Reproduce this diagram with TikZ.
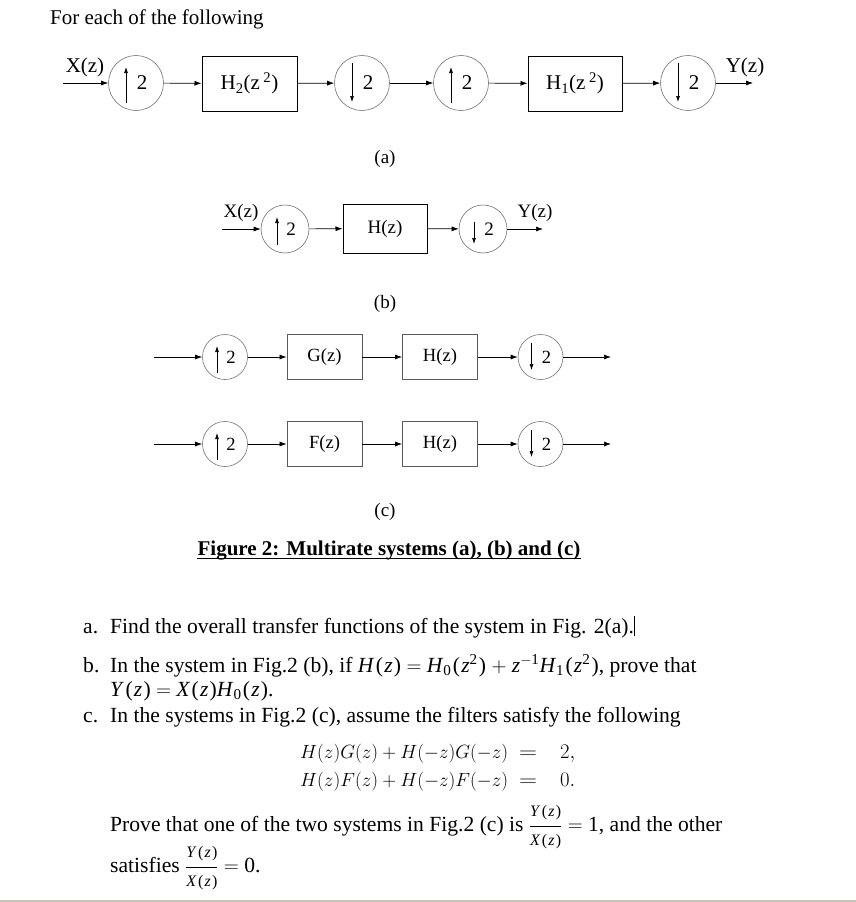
\documentclass[tikz,border=0pt]{standalone}
\usepackage[no-math]{fontspec}
\usepackage{graphicx}
\setmainfont{Liberation Serif}
\usetikzlibrary{arrows.meta}
\newcommand{\vi}[1]{\textit{#1}}
\newcommand{\pl}{\kern1.4pt(\kern1.2pt}
\newcommand{\pr}{\kern1.2pt)}
\newcommand{\fa}{\fontsize{21}{25}\selectfont}
\newcommand{\fb}{\fontsize{19}{23}\selectfont}
\newcommand{\fc}{\fontsize{18.6}{22}\selectfont}
\newcommand{\ft}{\fontsize{21}{25}\selectfont}
\newcommand{\fqq}{\fontsize{21.6}{25}\selectfont}
\newcommand{\fq}{\fontsize{20.74}{25}\selectfont}
\newcommand{\fr}{\fontsize{16}{16}\selectfont}
\newcommand{\yx}{$\displaystyle\frac{\hbox{\fr\vi{Y}\pl\vi{z}\pr}}{\hbox{\fr\vi{X}\pl\vi{z}\pr}}$}
\begin{document}
\begin{tikzpicture}[x=1pt,y=-1pt,
  circ/.style={circle,draw=black!55,line width=0.6pt,minimum size=#1,inner sep=0pt},
  blk/.style={rectangle,draw,line width=1pt,inner sep=0pt},
  blkc/.style={rectangle,draw=black!65,line width=0.8pt,inner sep=0pt,minimum width=75pt,minimum height=45pt,font=\fc},
  conn/.style={-{Latex[length=7pt,width=5pt]},line width=0.7pt},
  sym/.style={-{Latex[length=6pt,width=4pt]},line width=0.7pt},
  txt/.style={anchor=base west,inner sep=0pt,font=\ft},
  qtxt/.style={anchor=base west,inner sep=0pt,font=\fqq},
]
\fill[white] (0,0) rectangle (856,902);
\useasboundingbox (0,0) rectangle (856,902);

\node[txt] (intro) at (50,24) {For each of the following};

% ---------- (a) ----------
\coordinate (ain) at (63,83);
\node[circ=55pt] (a1) at (136,83) {};
\node[blk,minimum width=95pt,minimum height=55pt,font=\fa] (ab1) at (249.5,83.5) {H\textsubscript{2}(z\,\textsuperscript{2})};
\node[circ=55pt] (a2) at (362,83) {};
\node[circ=55pt] (a3) at (461,83) {};
\node[blk,minimum width=94pt,minimum height=55pt,font=\fa] (ab2) at (575,83.5) {H\textsubscript{1}(z\,\textsuperscript{2})};
\node[circ=55pt] (a4) at (688,83) {};
\coordinate (aout) at (753,83);
\draw[conn] (ain) -- (a1);
\draw[conn] (a1) -- (ab1);
\draw[conn] (ab1) -- (a2);
\draw[conn] (a2) -- (a3);
\draw[conn] (a3) -- (ab2);
\draw[conn] (ab2) -- (a4);
\draw[conn] (a4) -- (aout);
\node[font=\fa,inner sep=0pt] (xa) at (85,67) {X(z)};
\node[font=\fa,inner sep=0pt] (ya) at (745,67) {Y(z)};
\draw[sym] ([shift={(-10,20)}]a1.center) -- ([shift={(-10,-16)}]a1.center);
\node[font=\fa,inner sep=0pt] (a1n) at ([xshift=6]a1.center) {2};
\draw[sym] ([shift={(-10,-20)}]a2.center) -- ([shift={(-10,19)}]a2.center);
\node[font=\fa,inner sep=0pt] (a2n) at ([xshift=6]a2.center) {2};
\draw[sym] ([shift={(-10,20)}]a3.center) -- ([shift={(-10,-16)}]a3.center);
\node[font=\fa,inner sep=0pt] (a3n) at ([xshift=6]a3.center) {2};
\draw[sym] ([shift={(-10,-20)}]a4.center) -- ([shift={(-10,19)}]a4.center);
\node[font=\fa,inner sep=0pt] (a4n) at ([xshift=6]a4.center) {2};
\node[txt,anchor=base,font=\fb] (capa) at (385,163) {(a)};

% ---------- (b) ----------
\coordinate (bin) at (222,229);
\node[circ=48pt] (b1) at (285,229) {};
\node[blk,minimum width=84pt,minimum height=49pt,font=\fb] (bb) at (385,228.5) {H(z)};
\node[circ=48pt] (b2) at (483,229) {};
\coordinate (bout) at (543,229);
\draw[conn] (bin) -- (b1);
\draw[conn] (b1) -- (bb);
\draw[conn] (bb) -- (b2);
\draw[conn] (b2) -- (bout);
\node[font=\fb,inner sep=0pt] (xb) at (241,213) {X(z)};
\node[font=\fb,inner sep=0pt] (yb) at (535,213) {Y(z)};
\draw[sym] ([shift={(-8,16)}]b1.center) -- ([shift={(-8,-12)}]b1.center);
\node[font=\fb,inner sep=0pt] (b1n) at ([xshift=6]b1.center) {2};
\draw[sym] ([shift={(-9,-7)}]b2.center) -- ([shift={(-9,15)}]b2.center);
\node[font=\fb,inner sep=0pt] (b2n) at ([xshift=6]b2.center) {2};
\node[txt,anchor=base,font=\fb] (capb) at (385,308) {(b)};

% ---------- (c) ----------
\foreach \r/\yy/\F in {1/357/G,2/444/F}{
  \coordinate (cin\r) at (154,\yy);
  \node[circ=45pt] (cu\r) at (225,\yy) {};
  \node[blkc] (cf\r) at (324.5,\yy) {\F(z)};
  \node[blkc] (ch\r) at (440,\yy) {H(z)};
  \node[circ=45pt] (cd\r) at (540.5,\yy) {};
  \coordinate (cout\r) at (611,\yy);
  \draw[conn] (cin\r) -- (cu\r);
  \draw[conn] (cu\r) -- (cf\r);
  \draw[conn] (cf\r) -- (ch\r);
  \draw[conn] (ch\r) -- (cd\r);
  \draw[conn] (cd\r) -- (cout\r);
  \draw[sym] ([shift={(-8,16)}]cu\r.center) -- ([shift={(-8,-11)}]cu\r.center);
  \node[font=\fc,inner sep=0pt] (cun\r) at ([xshift=6]cu\r.center) {2};
  \draw[sym] ([shift={(-9,-14)}]cd\r.center) -- ([shift={(-9,13)}]cd\r.center);
  \node[font=\fc,inner sep=0pt] (cdn\r) at ([xshift=6]cd\r.center) {2};
}
\node[txt,anchor=base,font=\fb] (capc) at (385,516) {(c)};

\node[txt,anchor=base,font=\ft\bfseries] (fig) at (389,555) {Figure 2: Multirate systems (a), (b) and (c)};
\draw[line width=1.6pt] ([yshift=-3.5pt]fig.base west) -- ([yshift=-3.5pt]fig.base east);

% ---------- questions ----------
\node[qtxt] (qa) at (83,633) {a.};
\node[qtxt] (qat) at (110,633) {Find the overall transfer functions of the system in Fig. 2(a).\rule[-3pt]{0.7pt}{20pt}};
\node[qtxt] (qb) at (83,672) {b.};
\node[qtxt] (qbt) at (110,672) {In the system in Fig.2 (b), if \vi{H}\pl\vi{z}\pr{} $=$ \vi{H}\textsubscript{0}\pl\vi{z}\textsuperscript{2}\pr{} $+$ \vi{z}\textsuperscript{$-$1}\vi{H}\textsubscript{1}\pl\vi{z}\textsuperscript{2}\pr, prove that};
\node[qtxt] (qbt2) at (110,696) {\vi{Y}\pl\vi{z}\pr{} $=$ \vi{X}\pl\vi{z}\pr\vi{H}\textsubscript{0}\pl\vi{z}\pr.};
\node[qtxt] (qc) at (83,722) {c.};
\node[qtxt] (qct) at (110,722) {In the systems in Fig.2 (c), assume the filters satisfy the following};

\node[txt,font=\fq] (e1l) at (300,758) {\resizebox{208pt}{!}{$H(z)G(z)+H(-z)G(-z)$}};
\node[txt,anchor=base,font=\fq] (e1m) at (528,758) {\scalebox{1.2}[1]{$=$}};
\node[txt,font=\fq] (e1r) at (560,758) {$2,$};
\node[txt,font=\fq] (e2l) at (300,786) {\resizebox{208pt}{!}{$H(z)F(z)+H(-z)F(-z)$}};
\node[txt,anchor=base,font=\fq] (e2m) at (528,786) {\scalebox{1.2}[1]{$=$}};
\node[txt,font=\fq] (e2r) at (560,786) {$0.$};

\node[qtxt] (prv) at (110,831) {Prove that one of the two systems in Fig.2 (c) is \yx{} $=$ 1, and the other};
\node[qtxt] (sa) at (110,872) {satisfies \yx{} $=$ 0.};

\draw[color={rgb,255:red,205;green,195;blue,180},line width=2pt] (0,901) -- (856,901);
\end{tikzpicture}
\end{document}
